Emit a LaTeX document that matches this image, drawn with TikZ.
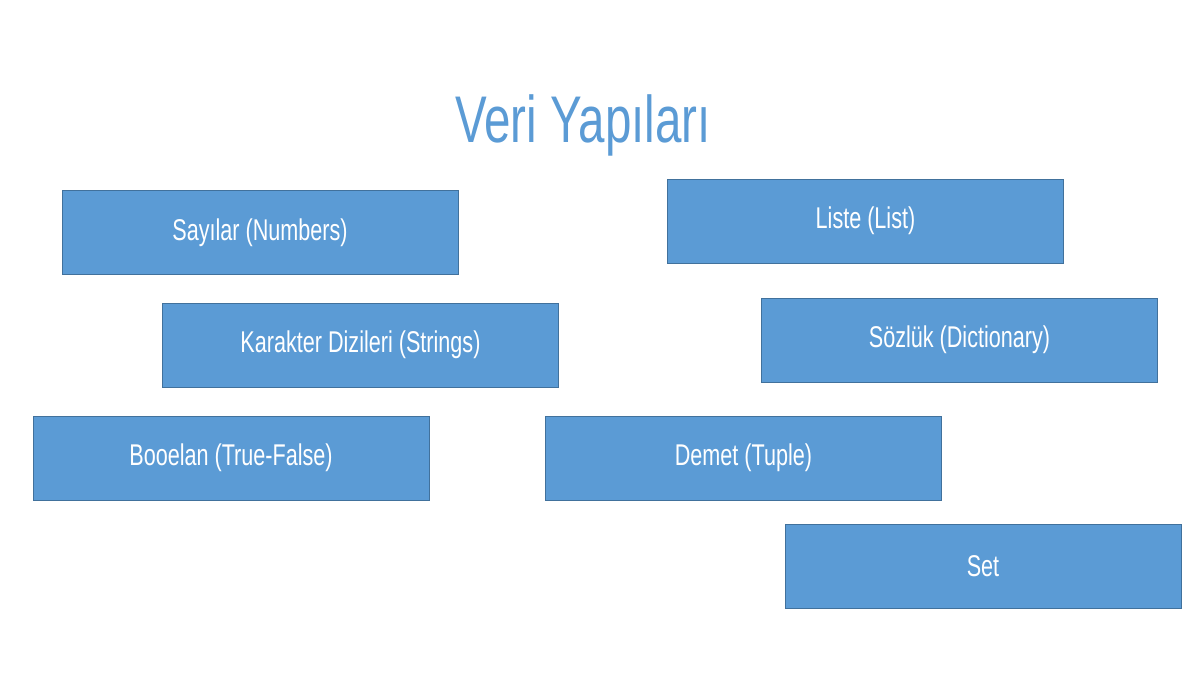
\documentclass[tikz,border=0pt]{standalone}
\usepackage{fontspec}
\setmainfont[FakeStretch=0.72]{Liberation Sans}
\definecolor{boxfill}{HTML}{5B9BD5}
\definecolor{boxline}{HTML}{41719C}
\tikzset{
  dbox/.style={draw=boxline, line width=0.8pt, fill=boxfill, text=white, minimum width=396pt, minimum height=84pt, inner sep=0pt, font=\fontsize{30}{32}\selectfont},
  ttl/.style={text=boxfill, font=\fontsize{66}{70}\selectfont}
}
\begin{document}
\begin{tikzpicture}[x=1pt,y=-1pt]
\useasboundingbox (0,0) rectangle (1200,675);
\node[ttl] (title) at (583,125) {Veri Yapıları};
\node[dbox] (sayi) at (260,232.5) {Sayılar (Numbers)};
\node[dbox] (kar) at (360.5,345) {Karakter Dizileri (Strings)};
\node[dbox] (bool) at (231,458) {Booelan (True-False)};
\node[dbox] (liste) at (865.5,221) {Liste (List)};
\node[dbox] (sozluk) at (959.5,340) {Sözlük (Dictionary)};
\node[dbox] (demet) at (743.5,458) {Demet (Tuple)};
\node[dbox] (set) at (983,566) {Set};
\end{tikzpicture}
\end{document}
